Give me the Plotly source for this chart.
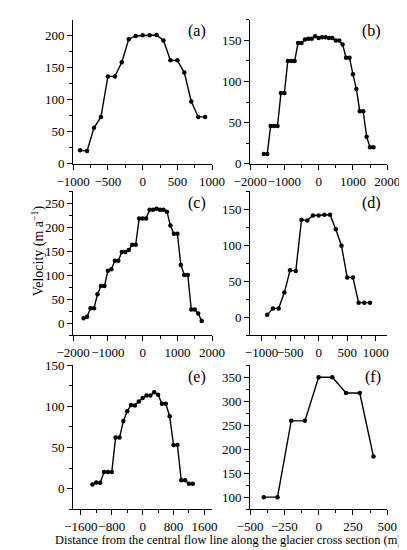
import plotly.graph_objects as go
from plotly.subplots import make_subplots

# panel (a)
xa = [-900, -800, -700, -600, -500, -400, -300, -200, -100, 0, 100, 200, 300, 400, 500, 600, 700, 800, 900]
va = [21, 20, 56, 73, 136, 136, 158, 194, 199, 200, 200, 200.5, 192, 161, 161, 142, 97, 73, 73]

# panel (b)
xb = [-1600, -1500, -1400, -1300, -1200, -1100, -1000, -900, -800, -700, -600, -500, -400, -300, -200, -100,
      0, 100, 200, 300, 400, 500, 600, 700, 800, 900, 1000, 1100, 1200, 1300, 1400, 1500, 1600]
vb = [12, 12, 46, 46, 46, 86, 86, 125, 125, 125, 147, 147, 151, 152, 152, 155,
      153, 154, 154, 153, 153, 150, 150, 145, 129, 129, 109, 91, 64, 64, 33, 20, 20]

# panel (c)
xc = [-1700, -1600, -1500, -1400, -1300, -1200, -1100, -1000, -900, -800, -700, -600, -500, -400, -300, -200, -100,
      0, 100, 200, 300, 400, 500, 600, 700, 800, 900, 1000, 1100, 1200, 1300, 1400, 1500, 1600, 1700]
vc = [10, 13, 31, 31, 60, 77, 77, 109, 112, 130, 130, 148, 148, 152, 163, 163, 218,
      218, 218, 236, 236, 238, 236, 236, 232, 203, 186, 186, 121, 100, 100, 28, 28, 20, 4]

# panel (d)
xd = [-900, -800, -700, -600, -500, -400, -300, -200, -100, 0, 100, 200, 300, 400, 500, 600, 700, 800, 900]
vd = [3, 12, 12, 34, 65, 64, 135, 134, 141, 141, 142, 142, 122, 99, 55, 55, 20, 20, 20]

# panel (e)
xe = [-1300, -1200, -1100, -1000, -900, -800, -700, -600, -500, -400, -300, -200, -100,
      0, 100, 200, 300, 400, 500, 600, 700, 800, 900, 1000, 1100, 1200, 1300]
ve = [5, 7.5, 7, 20, 20, 20, 62, 62, 82, 94, 101.5, 101, 106,
      110, 113, 113, 117, 114, 103, 103, 88, 53, 53, 10, 10, 6, 6]

# panel (f)
xf = [-400, -300, -200, -100, 0, 100, 200, 300, 400]
vf = [100, 100, 259, 259, 350, 350, 317, 317, 184.5]

panels = [
    ("(a)", xa, va, [-1000, 1000], 500, [0, 224], 50),
    ("(b)", xb, vb, [-2000, 2000], 1000, [0, 175], 50),
    ("(c)", xc, vc, [-2000, 2000], 1000, [-25, 275], 50),
    ("(d)", xd, vd, [-1200, 1200], 500, [-25, 175], 50),
    ("(e)", xe, ve, [-1800, 1800], 800, [-25, 150], 50),
    ("(f)", xf, vf, [-500, 500], 250, [75, 375], 50),
]

W, H = 407, 550
xdom = [[52 / W, 202 / W], [243 / W, 391 / W]]
ydom = [[1 - 153 / H, 1 - 5 / H], [1 - 329 / H, 1 - 181 / H], [1 - 508 / H, 1 - 360 / H]]

fig = make_subplots(rows=3, cols=2)
font = "Liberation Serif"

for i, (lab, xs, ys, xr, xdt, yr, ydt) in enumerate(panels):
    r, c = i // 2 + 1, i % 2 + 1
    fig.add_trace(go.Scatter(x=xs, y=ys, mode="lines+markers",
                             line=dict(color="black", width=1.4),
                             marker=dict(color="black", size=4.5),
                             showlegend=False), row=r, col=c)
    fig.update_xaxes(range=xr, dtick=xdt, tick0=0, domain=xdom[c - 1], tickangle=0,
                     showline=True, linecolor="black", linewidth=1.2,
                     ticks="outside", ticklen=5, tickcolor="black",
                     minor=dict(ticks="outside", ticklen=3, dtick=xdt / 2, tick0=0, tickcolor="black"),
                     showgrid=False, zeroline=False,
                     tickfont=dict(family=font, size=13, color="black"),
                     row=r, col=c)
    fig.update_yaxes(range=yr, dtick=ydt, tick0=0, domain=ydom[r - 1],
                     showline=True, linecolor="black", linewidth=1.2,
                     ticks="outside", ticklen=5, tickcolor="black",
                     minor=dict(ticks="outside", ticklen=3, dtick=ydt / 2, tick0=0, tickcolor="black"),
                     showgrid=False, zeroline=False,
                     tickfont=dict(family=font, size=13, color="black"),
                     row=r, col=c)
    ax = "x" if i == 0 else "x%d" % (i + 1)
    ay = "y" if i == 0 else "y%d" % (i + 1)
    fig.add_annotation(text=lab, xref=ax + " domain", yref=ay + " domain",
                       x=0.97, y=0.92, xanchor="right", yanchor="middle",
                       showarrow=False, font=dict(family=font, size=16, color="black"))

fig.add_annotation(text="Velocity (m a<sup>−1</sup>)", xref="paper", yref="paper",
                   x=14 / W, y=1 - 242 / H, textangle=-90, showarrow=False,
                   xanchor="center", yanchor="middle",
                   font=dict(family=font, size=14, color="black"))
fig.add_annotation(text="Distance from the central flow line along the glacier cross section (m)",
                   xref="paper", yref="paper", x=219 / W, y=1 - 540 / H, showarrow=False,
                   xanchor="center", yanchor="middle",
                   font=dict(family=font, size=12.4, color="black"))

fig.update_layout(width=W, height=H, margin=dict(l=0, r=0, t=0, b=0),
                  plot_bgcolor="white", paper_bgcolor="white")

fig.write_html("out.html")
